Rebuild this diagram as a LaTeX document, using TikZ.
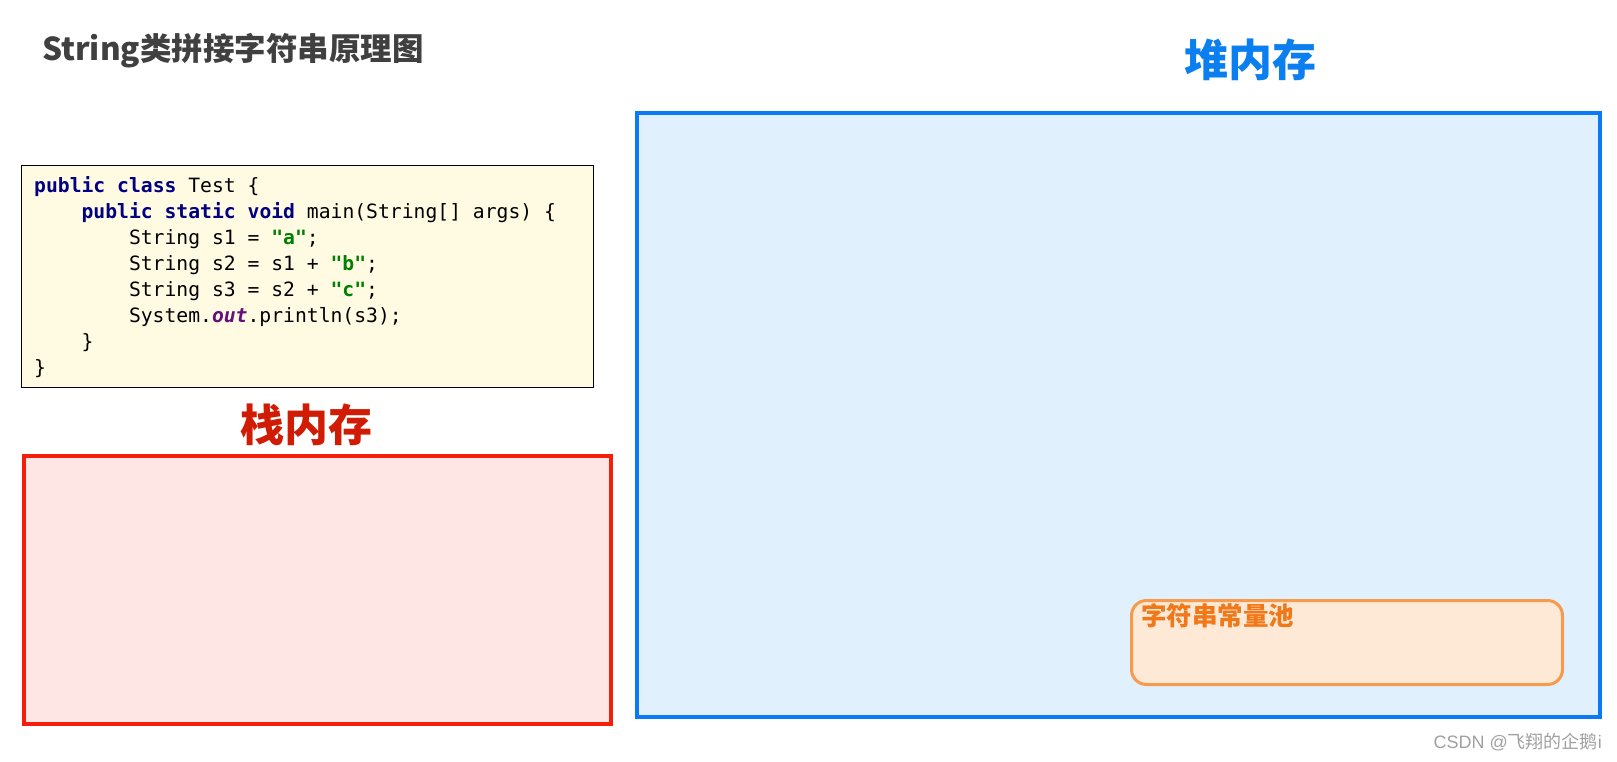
\documentclass[tikz,border=0pt]{standalone}
\usepackage{fontspec}
\setmonofont{DejaVu Sans Mono}
\setsansfont{Liberation Sans}
\newfontfamily\cjk{Noto Sans CJK SC}
\definecolor{titlegray}{HTML}{404040}
\definecolor{heapline}{HTML}{0A7AF6}
\definecolor{heapfill}{HTML}{E1F0FD}
\definecolor{heaptext}{HTML}{0B7FEF}
\definecolor{stackline}{HTML}{F41E0A}
\definecolor{stackfill}{HTML}{FDE6E3}
\definecolor{stacktext}{HTML}{D01C05}
\definecolor{poolline}{HTML}{F89A4C}
\definecolor{poolfill}{HTML}{FDE9D6}
\definecolor{pooltext}{HTML}{F07818}
\definecolor{codefill}{HTML}{FFFBE3}
\definecolor{kwcol}{HTML}{000080}
\definecolor{strcol}{HTML}{008000}
\definecolor{fieldcol}{HTML}{660E7A}
\definecolor{wmgray}{HTML}{A0A0A0}
\newcommand{\kw}[1]{\textcolor{kwcol}{\bfseries #1}}
\newcommand{\jstr}[1]{\textcolor{strcol}{\bfseries #1}}
\newcommand{\jfield}[1]{\textcolor{fieldcol}{\bfseries\itshape #1}}
\begin{document}
\begin{tikzpicture}[x=1pt,y=-1pt,
  codeline/.style={anchor=base west,inner sep=0pt,font=\ttfamily\fontsize{19.7}{24}\selectfont},
  bigtitle/.style={inner sep=0pt,font=\cjk\bfseries\fontsize{44}{48}\selectfont}]
\useasboundingbox (0,0) rectangle (1617,762);
% title
\node[anchor=west,inner sep=0pt,text=titlegray,font=\cjk\bfseries\fontsize{31.5}{35}\selectfont] (title) at (42,50.5) {String类拼接字符串原理图};
% heap
\node[bigtitle,text=heaptext] (heaptitle) at (1250,60) {堆内存};
\draw[heapline,fill=heapfill,line width=4pt] (637,113) rectangle (1600,717);
% pool
\draw[poolline,fill=poolfill,line width=3pt,rounded corners=15pt] (1131.5,600.5) rectangle (1562.5,684.5);
\node[anchor=west,inner sep=0pt,text=pooltext,font=\cjk\bfseries\fontsize{25.5}{28}\selectfont] (pooltitle) at (1141,616) {字符串常量池};
% code
\draw[black,fill=codefill,line width=1.5pt] (21.3,165.7) rectangle (593.3,387.3);
\node[codeline] (c1) at (34,193) {\kw{public} \kw{class} Test \{};
\node[codeline] (c2) at (81.4,218.9) {\kw{public} \kw{static} \kw{void} main(String[] args) \{};
\node[codeline] (c3) at (128.8,244.8) {String s1 = \jstr{"a"};};
\node[codeline] (c4) at (128.8,270.7) {String s2 = s1 + \jstr{"b"};};
\node[codeline] (c5) at (128.8,296.6) {String s3 = s2 + \jstr{"c"};};
\node[codeline] (c6) at (128.8,322.5) {System.\jfield{out}.println(s3);};
\node[codeline] (c7) at (81.4,348.4) {\}};
\node[codeline] (c8) at (34,374.3) {\}};
% stack
\node[bigtitle,text=stacktext] (stacktitle) at (306,425) {栈内存};
\draw[stackline,fill=stackfill,line width=4.5pt] (23.8,455.8) rectangle (610.8,723.8);
% watermark
\node[anchor=east,inner sep=0pt,text=wmgray,font=\fontsize{18}{20}\selectfont] (wm) at (1602,742) {{\sffamily CSDN @}{\cjk 飞翔的企鹅}{\sffamily i}};
\end{tikzpicture}
\end{document}
